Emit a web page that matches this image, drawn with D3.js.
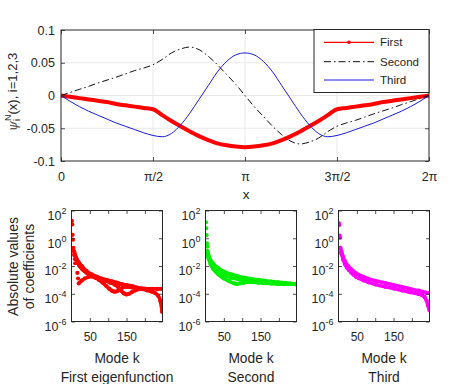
<!DOCTYPE html>
<html>
<head>
<meta charset="utf-8">
<script src="https://cdn.jsdelivr.net/npm/d3@7"></script>
<style>
  body { margin: 0; background: #fff; }
  svg { display: block; font-family: "Liberation Sans", Arial, sans-serif; }
</style>
</head>
<body>
<svg id="chart" width="474" height="384"></svg>
<script>
// ---- top panel: eigenfunctions, x given in multiples of pi ----
const xPi = [0, 0.05, 0.1, 0.15, 0.2, 0.25, 0.3, 0.35, 0.4, 0.45, 0.5, 0.55, 0.6, 0.65, 0.7, 0.75, 0.8, 0.85, 0.9, 0.95, 1.0,
  1.05, 1.1, 1.15, 1.2, 1.25, 1.3, 1.35, 1.4, 1.45, 1.5, 1.55, 1.6, 1.65, 1.7, 1.75, 1.8, 1.85, 1.9, 1.95, 2.0];
const firstVals = [0, -0.002, -0.004, -0.006, -0.008, -0.010, -0.013, -0.015, -0.017, -0.019, -0.021, -0.030, -0.039, -0.047, -0.055, -0.062, -0.068, -0.073, -0.076, -0.078, -0.079,
  -0.078, -0.076, -0.073, -0.068, -0.062, -0.055, -0.047, -0.039, -0.030, -0.021, -0.019, -0.017, -0.015, -0.013, -0.010, -0.008, -0.006, -0.004, -0.002, 0];
const secondVals = [0, 0.0047, 0.0094, 0.014, 0.019, 0.0235, 0.028, 0.033, 0.038, 0.042, 0.047, 0.055, 0.065, 0.071, 0.074, 0.070, 0.060, 0.047, 0.032, 0.017, 0,
  -0.017, -0.032, -0.047, -0.060, -0.070, -0.074, -0.071, -0.065, -0.055, -0.047, -0.042, -0.038, -0.033, -0.028, -0.0235, -0.019, -0.014, -0.0094, -0.0047, 0];
const thirdVals = [0, -0.009, -0.017, -0.024, -0.030, -0.036, -0.042, -0.047, -0.052, -0.057, -0.061, -0.063, -0.058, -0.045, -0.027, -0.006, 0.015, 0.036, 0.052, 0.062, 0.065,
  0.062, 0.052, 0.036, 0.015, -0.006, -0.027, -0.045, -0.058, -0.063, -0.061, -0.057, -0.052, -0.047, -0.042, -0.036, -0.030, -0.024, -0.017, -0.009, 0];
const legendNames = ["First", "Second", "Third"];
const topXTicks = [0, 0.5, 1, 1.5, 2];
const topXLabels = ["0", "\u03c0/2", "\u03c0", "3\u03c0/2", "2\u03c0"];
const topYTicks = [-0.1, -0.05, 0, 0.05, 0.1];

// ---- bottom panels: |coefficients| vs mode k, values stored as log10 ----
const firstEarlyK = [1, 2, 3, 4, 5, 6, 7, 8, 9, 10, 16, 18];
const firstEarlyLog = [1.25, 1.0, 0.25, -0.1, -0.7, -0.9, -1.2, -1.0, -1.5, -1.8, -2.5, -2.9];
const firstAK = [10, 20, 28, 40, 55, 70, 82, 96, 110, 124, 137, 151, 165, 178, 192, 205, 219, 228, 236, 242, 247];
const firstALog = [-1.2, -1.75, -2.0, -2.35, -2.6, -2.78, -2.9, -3.0, -3.1, -3.2, -3.3, -3.38, -3.45, -3.55, -3.65, -3.75, -3.85, -3.95, -4.15, -4.5, -5.3];
const firstBK = [20, 28, 36, 45, 55, 70, 85, 100, 115, 130, 145, 160, 175, 190, 205, 220, 235, 247];
const firstBLog = [-3.25, -3.05, -2.9, -2.8, -2.75, -2.85, -2.97, -3.1, -3.2, -3.3, -3.4, -3.5, -3.58, -3.63, -3.65, -3.65, -3.65, -3.65];
const firstCK = [12, 20, 30, 42, 55, 65, 75, 85, 95, 103, 110, 117, 124, 131, 140, 150, 165, 180, 192];
const firstCLog = [-1.4, -1.9, -2.25, -2.5, -2.7, -2.85, -3.0, -3.2, -3.45, -3.65, -3.78, -3.85, -3.82, -3.7, -3.55, -3.5, -3.55, -3.6, -3.63];
const firstDK = [14, 22, 35, 48, 60, 75, 90, 105, 118, 128, 136, 143, 150, 157, 165, 175, 187, 198];
const firstDLog = [-1.55, -2.0, -2.35, -2.6, -2.75, -2.9, -3.05, -3.2, -3.35, -3.55, -3.8, -3.98, -4.05, -4.0, -3.88, -3.75, -3.66, -3.63];

const secondEarlyK = [1, 2, 3, 4, 5, 6, 2];
const secondEarlyLog = [1.15, 0.72, 0.23, -0.36, -0.6, -0.96, -1.33];
const secondAK = [5, 10, 20, 35, 50, 70, 90, 108, 126, 144, 162, 180, 198, 217, 232, 246];
const secondALog = [-0.9, -1.35, -1.8, -2.15, -2.4, -2.6, -2.75, -2.85, -2.93, -3.0, -3.06, -3.12, -3.17, -3.22, -3.26, -3.28];
const secondBK = [7, 12, 20, 35, 50, 70, 90, 110, 126, 144, 162, 180, 198, 217, 232, 246];
const secondBLog = [-1.2, -1.6, -2.0, -2.4, -2.65, -2.85, -2.95, -3.0, -3.05, -3.1, -3.15, -3.2, -3.24, -3.27, -3.29, -3.3];
const secondCK = [9, 14, 22, 35, 50, 65, 78, 86, 94, 104, 116, 130, 144, 162, 180, 198, 217, 246];
const secondCLog = [-1.5, -1.9, -2.25, -2.6, -2.9, -3.1, -3.25, -3.3, -3.25, -3.2, -3.15, -3.17, -3.2, -3.24, -3.27, -3.3, -3.31, -3.32];

const thirdEarlyK = [1, 2, 3, 4, 5, 6, 7];
const thirdEarlyLog = [1.1, 0.95, 0.2, 0.05, -0.7, -0.75, -1.05];
const thirdAK = [8, 12, 17, 22, 27, 34, 40, 47, 54, 67, 81, 100, 127, 150, 172, 195, 218, 230, 238, 248];
const thirdALog = [-0.95, -1.3, -1.62, -1.88, -2.03, -2.22, -2.37, -2.52, -2.62, -2.77, -2.92, -3.07, -3.22, -3.37, -3.5, -3.64, -3.78, -3.86, -3.92, -3.95];
const thirdBK = [9, 13, 18, 23, 28, 35, 41, 48, 55, 68, 82, 101, 128, 151, 173, 196, 218, 228, 235, 240, 244, 248];
const thirdBLog = [-1.15, -1.55, -1.9, -2.12, -2.28, -2.48, -2.63, -2.78, -2.88, -3.03, -3.18, -3.33, -3.5, -3.63, -3.76, -3.9, -4.02, -4.1, -4.25, -4.5, -4.85, -5.2];

const bottomXTicks = [50, 100, 150, 200];
const bottomXLabels = [50, 150];
const bottomYTicks = [1e2, 1e0, 1e-2, 1e-4, 1e-6];
const panelTitles = ["First eigenfunction", "Second", "Third"];

const AX = "#262626";
const svg = d3.select("#chart");

// ---------- top panel ----------
const xTop = d3.scaleLinear().domain([0, 2 * Math.PI]).range([61, 429]);
const yTop = d3.scaleLinear().domain([-0.1, 0.1]).range([161, 30]);
const topG = svg.append("g");

// grid
topG.append("g").selectAll("line").data(topXTicks.slice(1, -1)).join("line")
  .attr("x1", d => xTop(d * Math.PI)).attr("x2", d => xTop(d * Math.PI))
  .attr("y1", 30).attr("y2", 161).attr("stroke", "#e3e3e3").attr("stroke-width", 0.8);
topG.append("g").selectAll("line").data(topYTicks.slice(1, -1)).join("line")
  .attr("x1", 61).attr("x2", 429)
  .attr("y1", d => yTop(d)).attr("y2", d => yTop(d)).attr("stroke", "#e3e3e3").attr("stroke-width", 0.8);

const lineTop = vals => d3.line()
  .x((d, i) => xTop(xPi[i] * Math.PI)).y(d => yTop(d))
  .curve(d3.curveMonotoneX)(vals);

topG.append("path").attr("d", lineTop(firstVals)).attr("fill", "none")
  .attr("stroke", "#ff0000").attr("stroke-width", 4).attr("stroke-linejoin", "round");
topG.append("path").attr("d", lineTop(secondVals)).attr("fill", "none")
  .attr("stroke", "#111").attr("stroke-width", 1).attr("stroke-dasharray", "7,3,1.5,3");
topG.append("path").attr("d", lineTop(thirdVals)).attr("fill", "none")
  .attr("stroke", "#1a1adc").attr("stroke-width", 1);

function styleAxis(g, size) {
  g.select(".domain").remove();
  g.selectAll(".tick line").attr("stroke", AX).attr("stroke-width", 0.8);
  g.selectAll(".tick text").attr("fill", AX).attr("font-size", size);
}

topG.append("g").attr("transform", "translate(0,161)")
  .call(d3.axisBottom(xTop).tickValues(topXTicks.map(d => d * Math.PI))
    .tickFormat((d, i) => topXLabels[i]).tickSize(-4).tickPadding(11))
  .call(g => styleAxis(g, 12.5)).attr("font-family", null);
topG.append("g").attr("transform", "translate(0,30)")
  .call(d3.axisTop(xTop).tickValues(topXTicks.map(d => d * Math.PI)).tickFormat("").tickSize(-4))
  .call(g => styleAxis(g, 12.5));
topG.append("g").attr("transform", "translate(61,0)")
  .call(d3.axisLeft(yTop).tickValues(topYTicks).tickFormat(d => d === 0 ? "0" : String(d))
    .tickSize(-4).tickPadding(6))
  .call(g => styleAxis(g, 12.5)).attr("font-family", null);
topG.append("g").attr("transform", "translate(429,0)")
  .call(d3.axisRight(yTop).tickValues(topYTicks).tickFormat("").tickSize(-4))
  .call(g => styleAxis(g, 12.5));
topG.append("rect").attr("x", 61).attr("y", 30).attr("width", 368).attr("height", 131)
  .attr("fill", "none").attr("stroke", AX).attr("stroke-width", 1);

topG.append("text").attr("x", 246).attr("y", 199).attr("text-anchor", "middle")
  .attr("font-size", 13.5).attr("fill", AX).text("x");

const yl = topG.append("text").attr("transform", "translate(17,92) rotate(-90)")
  .attr("text-anchor", "middle").attr("font-size", 13).attr("fill", AX);
yl.append("tspan").attr("font-family", "DejaVu Serif").attr("font-style", "italic").attr("fill", "#555").text("\u03c8");
yl.append("tspan").attr("font-size", 9).attr("dy", 3).text("i");
yl.append("tspan").attr("font-size", 9).attr("dx", -2).attr("dy", -9).text("N");
yl.append("tspan").attr("dy", 6).text("(x), i=1,2,3");

// legend
const leg = topG.append("g");
leg.append("rect").attr("x", 314).attr("y", 29.5).attr("width", 115).attr("height", 63)
  .attr("fill", "#fff").attr("stroke", AX).attr("stroke-width", 1);
const legY = [42.3, 61.7, 80];
const legStroke = ["#ff0000", "#111", "#1a1adc"];
const legDash = [null, "7,3,1.5,3", null];
legendNames.forEach((name, i) => {
  leg.append("line").attr("x1", 324).attr("x2", 374).attr("y1", legY[i]).attr("y2", legY[i])
    .attr("stroke", legStroke[i]).attr("stroke-width", i === 0 ? 1.2 : 1).attr("stroke-dasharray", legDash[i]);
  if (i === 0) leg.append("circle").attr("cx", 349).attr("cy", legY[i]).attr("r", 1.8).attr("fill", "#ff0000");
  leg.append("text").attr("x", 380).attr("y", legY[i] + 4).attr("font-size", 11.5).attr("fill", AX).text(name);
});

// ---------- bottom panels ----------
const yBot = d3.scaleLog().domain([1e-6, 1e2]).range([321.5, 210.5]);
const panelLeft = [71.5, 205.5, 338.5];
const panelW = 91;
const panels = [
  { color: "#ff0000", early: [firstEarlyK, firstEarlyLog],
    branches: [[firstAK, firstALog], [firstBK, firstBLog], [firstCK, firstCLog], [firstDK, firstDLog]] },
  { color: "#00ee00", early: [secondEarlyK, secondEarlyLog],
    branches: [[secondAK, secondALog], [secondBK, secondBLog], [secondCK, secondCLog]] },
  { color: "#ff00ff", early: [thirdEarlyK, thirdEarlyLog],
    branches: [[thirdAK, thirdALog], [thirdBK, thirdBLog]] }
];

panels.forEach((p, pi) => {
  const left = panelLeft[pi];
  const xB = d3.scaleLinear().domain([0, 248]).range([left, left + panelW]);
  const g = svg.append("g");
  const clipId = "clip" + pi;
  svg.append("clipPath").attr("id", clipId).append("rect")
    .attr("x", left).attr("y", 210.5).attr("width", panelW).attr("height", 111);
  const dg = g.append("g").attr("clip-path", `url(#${clipId})`);

  const line = d3.line().x(d => xB(d[0])).y(d => yBot(Math.pow(10, d[1]))).curve(d3.curveMonotoneX);
  p.branches.forEach(([ks, ls]) => {
    const pts = ks.map((k, i) => [k, ls[i]]);
    dg.append("path").attr("d", line(pts)).attr("fill", "none").attr("stroke", p.color)
      .attr("stroke-width", 3.6).attr("stroke-linecap", "round").attr("stroke-linejoin", "round");
    dg.append("g").selectAll("circle").data(pts).join("circle")
      .attr("cx", d => xB(d[0])).attr("cy", d => yBot(Math.pow(10, d[1]))).attr("r", 2.1).attr("fill", p.color);
  });
  const ep = p.early[0].map((k, i) => [k, p.early[1][i]]);
  dg.append("g").selectAll("circle").data(ep).join("circle")
    .attr("cx", d => xB(d[0])).attr("cy", d => yBot(Math.pow(10, d[1]))).attr("r", 2.1).attr("fill", p.color);

  g.append("g").attr("transform", "translate(0,321.5)")
    .call(d3.axisBottom(xB).tickValues(bottomXTicks)
      .tickFormat(d => bottomXLabels.includes(d) ? String(d) : "").tickSize(-3.5).tickPadding(11))
    .call(a => styleAxis(a, 12)).attr("font-family", null);
  g.append("g").attr("transform", "translate(0,210.5)")
    .call(d3.axisTop(xB).tickValues(bottomXTicks).tickFormat("").tickSize(-3.5))
    .call(a => styleAxis(a, 12));
  g.append("g").attr("transform", `translate(${left},0)`)
    .call(d3.axisLeft(yBot).tickValues(bottomYTicks).tickFormat("").tickSize(-3.5).tickPadding(5))
    .call(a => styleAxis(a, 12.5)).attr("font-family", null)
    .call(a => a.selectAll(".tick text").attr("dy", "0.7em").each(function(d) {
      const t = d3.select(this);
      t.append("tspan").text("10");
      t.append("tspan").attr("font-size", 9).attr("dy", -6).text(String(Math.round(Math.log10(d))));
    }));
  g.append("g").attr("transform", `translate(${left + panelW},0)`)
    .call(d3.axisRight(yBot).tickValues(bottomYTicks).tickFormat("").tickSize(-3.5))
    .call(a => styleAxis(a, 12));
  g.append("rect").attr("x", left).attr("y", 210.5).attr("width", panelW).attr("height", 111)
    .attr("fill", "none").attr("stroke", AX).attr("stroke-width", 1);

  g.append("text").attr("x", left + panelW / 2).attr("y", 363).attr("text-anchor", "middle")
    .attr("font-size", 13.8).attr("fill", AX).text("Mode k");
  g.append("text").attr("x", left + panelW / 2).attr("y", 382).attr("text-anchor", "middle")
    .attr("font-size", 13.8).attr("fill", AX).text(panelTitles[pi]);
});

const byl = svg.append("text").attr("transform", "translate(0,266.5) rotate(-90)")
  .attr("text-anchor", "middle").attr("font-size", 14).attr("fill", AX);
byl.append("tspan").attr("x", 0).attr("y", 18).text("Absolute values");
byl.append("tspan").attr("x", 0).attr("y", 34).text("of coefficients");
</script>
</body>
</html>
